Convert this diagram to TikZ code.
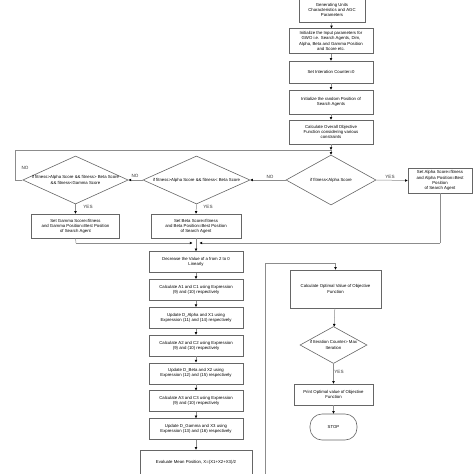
\documentclass[tikz,border=0pt]{standalone}
\usepackage{fontspec}
\setmainfont{Liberation Sans}
\usetikzlibrary{shapes.geometric,arrows.meta}
\begin{document}
\begin{tikzpicture}[x=1pt,y=-1pt,
  font=\fontsize{4.3}{5.1}\selectfont,
  box/.style={draw=black!60, line width=0.6pt, fill=white, align=center, inner sep=0.5pt},
  dia/.style={draw=black!60, line width=0.6pt, shape=diamond, align=center, inner sep=0pt},
  term/.style={draw=black!60, line width=0.6pt, rounded corners=12pt, align=center, inner sep=0pt},
  conn/.style={draw=black!45, line width=0.5pt},
  arr/.style={conn, -{Triangle[length=2.6pt,width=2.4pt,color=black]}},
  lbl/.style={font=\fontsize{4.6}{5}\selectfont, text=black!80, inner sep=0pt}
]
\useasboundingbox (0,0) rectangle (474,474);
% top column
\node[box, minimum width=66pt, minimum height=24pt] (b1) at (332,10) {Generating Units\\Characteristics and AGC\\Parameters};
\node[box, minimum width=84pt, minimum height=25pt] (b2) at (331,41) {Initialize the Input parameters for\\GWO i.e. Search Agents, Dim,\\Alpha, Beta and Gamma Position\\and Score etc.};
\node[box, minimum width=84pt, minimum height=22pt] (b3) at (331,72) {Set Interation Counter=0};
\node[box, minimum width=84pt, minimum height=24pt] (b4) at (331,102) {Initialize the random Position of\\Search Agents};
\node[box, minimum width=84pt, minimum height=24pt] (b5) at (331,132) {Calculate Overall Objective\\Function considering various\\constraints};
\coordinate (J) at (331,150);
% diamonds
\node[dia, minimum width=90pt, minimum height=50pt, aspect=1.8] (da) at (331,180) {if fitness<Alpha Score};
\node[dia, minimum width=107pt, minimum height=48pt, aspect=2.2] (db) at (196.5,180) {if fitness>Alpha Score \&\& fitness< Beta Score};
\node[dia, minimum width=105pt, minimum height=48pt, aspect=2.2] (dg) at (75.5,180) {if fitness>Alpha Score \&\& fitness> Beta Score\\\&\& fitness<Gamma Score};
% update boxes
\node[box, minimum width=64pt, minimum height=25pt] (ba) at (440,180.5) {Set Alpha Score=fitness\\and Alpha Position=Best\\Position\\of Search Agent};
\node[box, minimum width=90pt, minimum height=24pt] (bb) at (196,226) {Set Beta Score=fitness\\and Beta Position=Best Position\\of Search Agent};
\node[box, minimum width=88pt, minimum height=24pt] (bg) at (75.5,226) {Set Gamma Score=fitness\\and Gamma Position=Best Position\\of Search Agent};
\coordinate (ML) at (76,243);
\coordinate (MR) at (440,243);
\coordinate (M1) at (192.5,243);
\coordinate (M2) at (199.5,243);
% left column
\node[box, minimum width=94pt, minimum height=21pt] (s1) at (196,262) {Decrease the Value of a from 2 to 0\\Linearly};
\node[box, minimum width=94pt, minimum height=21pt] (s2) at (196,289.8) {Calculate A1 and C1 using Expression\\(9) and (10) respectively};
\node[box, minimum width=94pt, minimum height=21pt] (s3) at (196,317.7) {Update D\_Alpha and X1 using\\Expression (11) and (14) respectively};
\node[box, minimum width=94pt, minimum height=21pt] (s4) at (196,345.5) {Calculate A2 and C2 using Expression\\(9) and (10) respectively};
\node[box, minimum width=94pt, minimum height=21pt] (s5) at (196,373.3) {Update D\_Beta and X2 using\\Expression (12) and (15) respectively};
\node[box, minimum width=94pt, minimum height=21pt] (s6) at (196,401.2) {Calculate A3 and C3 using Expression\\(9) and (10) respectively};
\node[box, minimum width=94pt, minimum height=21pt] (s7) at (196,429) {Update D\_Gamma and X3 using\\Expression (13) and (16) respectively};
\node[box, minimum width=112pt, minimum height=24pt] (s8) at (196,462) {Evaluate Mean Position, X=(X1+X2+X3)/2};
% right column
\coordinate (R0) at (265,474);
\coordinate (R1) at (265,263);
\node[box, minimum width=91pt, minimum height=38pt] (opt) at (335.5,289) {Calculate Optimal Value of Objective\\Function};
\node[dia, minimum width=67pt, minimum height=37pt, aspect=1.8] (it) at (333.5,345) {if Iteration Counter> Max\\Iteration};
\node[box, minimum width=79pt, minimum height=21pt] (pr) at (333.5,394.5) {Print Optimal value of Objective\\Function};
\node[term, minimum width=47pt, minimum height=26pt] (stop) at (333.5,427) {STOP};
% connectors
\draw[arr] (b1) -- (b2);
\draw[arr] (b2) -- (b3);
\draw[arr] (b3) -- (b4);
\draw[arr] (b4) -- (b5);
\draw[arr] (b5) -- (J);
\draw[conn] (dg.west) -- (15,180) -- (15,150) -- (J);
\draw[arr] (J) -- (da.north);
\draw[arr] (da.west) -- (db.east);
\draw[arr] (db.west) -- (dg.east);
\draw[arr] (da.east) -- (ba.west);
\draw[arr] (db.south) -- (bb.north);
\draw[arr] (dg.south) -- (bg.north);
\draw[conn] (bg.south) -- (ML);
\draw[arr] (ML) -- (M1);
\draw[conn] (ba.south) -- (MR);
\draw[arr] (MR) -- (M2);
\draw[arr] (bb.south) -- (s1.north);
\draw[arr] (s1) -- (s2);
\draw[arr] (s2) -- (s3);
\draw[arr] (s3) -- (s4);
\draw[arr] (s4) -- (s5);
\draw[arr] (s5) -- (s6);
\draw[arr] (s6) -- (s7);
\draw[arr] (s7) -- (s8);
\draw[conn] (R0) -- (R1) -- (opt.north |- R1);
\draw[arr] (opt.north |- R1) -- (opt.north);
\draw[arr] (opt) -- (it);
\draw[arr] (it) -- (pr);
\draw[arr] (pr) -- (stop);
% labels
\node[lbl] (n1) at (25,168) {NO};
\node[lbl] (n2) at (135,176) {NO};
\node[lbl] (n3) at (270,177) {NO};
\node[lbl] (y1) at (390,177) {YES};
\node[lbl] (y2) at (208,207) {YES};
\node[lbl] (y3) at (88,207) {YES};
\node[lbl] (y4) at (339,372) {YES};
\end{tikzpicture}
\end{document}
